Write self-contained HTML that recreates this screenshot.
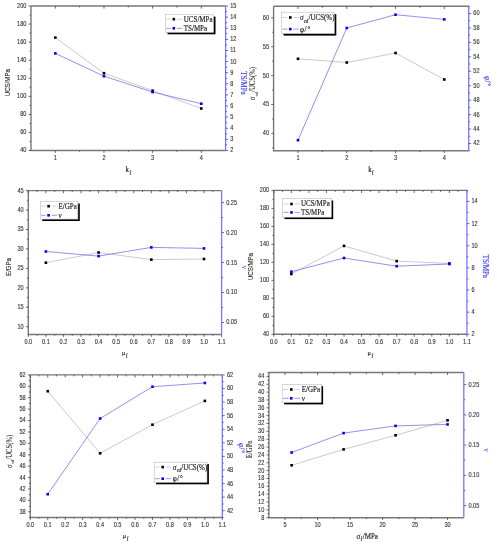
<!DOCTYPE html>
<html><head><meta charset="utf-8"><title>Charts</title>
<style>
html,body{margin:0;padding:0;background:#fff;}
body{width:497px;height:550px;overflow:hidden;}
svg{display:block;}
.t{font-family:'Liberation Sans', Arial, sans-serif;font-size:5.6px;fill:#333;stroke:#333;stroke-width:0.1px;}
.s{font-family:'Liberation Serif', 'Times New Roman', serif;font-size:7.0px;fill:#222;stroke:#222;stroke-width:0.15px;}
.sl{font-family:'Liberation Serif', 'Times New Roman', serif;font-size:6.7px;fill:#2a2a2a;stroke:#2a2a2a;stroke-width:0.08px;}
.st{font-family:'Liberation Sans', Arial, sans-serif;font-size:6.1px;fill:#333;stroke:#333;stroke-width:0.12px;}
</style></head><body>
<svg width="497" height="550" viewBox="0 0 497 550">
<rect width="497" height="550" fill="#fff"/>
<path d="M31,6V150.5H225.6M31,6H225.6" stroke="#787878" stroke-width="1.4" fill="none"/>
<path d="M55.33,150.5v2.4M55.33,6v2.6" stroke="#444" stroke-width="0.8"/>
<text transform="translate(55.33,159.90) scale(1,1.22)" class="t" text-anchor="middle">1</text>
<path d="M103.97,150.5v2.4M103.97,6v2.6" stroke="#444" stroke-width="0.8"/>
<text transform="translate(103.97,159.90) scale(1,1.22)" class="t" text-anchor="middle">2</text>
<path d="M152.62,150.5v2.4M152.62,6v2.6" stroke="#444" stroke-width="0.8"/>
<text transform="translate(152.62,159.90) scale(1,1.22)" class="t" text-anchor="middle">3</text>
<path d="M201.28,150.5v2.4M201.28,6v2.6" stroke="#444" stroke-width="0.8"/>
<text transform="translate(201.28,159.90) scale(1,1.22)" class="t" text-anchor="middle">4</text>
<path d="M79.65,150.5v1.3M79.65,6v1.5" stroke="#444" stroke-width="0.8"/>
<path d="M128.30,150.5v1.3M128.30,6v1.5" stroke="#444" stroke-width="0.8"/>
<path d="M176.95,150.5v1.3M176.95,6v1.5" stroke="#444" stroke-width="0.8"/>
<path d="M31,150.50h-2.4" stroke="#444" stroke-width="0.8"/>
<text transform="translate(26.40,152.45) scale(1,1.22)" class="t" text-anchor="end">40</text>
<path d="M31,132.44h-2.4" stroke="#444" stroke-width="0.8"/>
<text transform="translate(26.40,134.39) scale(1,1.22)" class="t" text-anchor="end">60</text>
<path d="M31,114.38h-2.4" stroke="#444" stroke-width="0.8"/>
<text transform="translate(26.40,116.33) scale(1,1.22)" class="t" text-anchor="end">80</text>
<path d="M31,96.31h-2.4" stroke="#444" stroke-width="0.8"/>
<text transform="translate(26.40,98.26) scale(1,1.22)" class="t" text-anchor="end">100</text>
<path d="M31,78.25h-2.4" stroke="#444" stroke-width="0.8"/>
<text transform="translate(26.40,80.20) scale(1,1.22)" class="t" text-anchor="end">120</text>
<path d="M31,60.19h-2.4" stroke="#444" stroke-width="0.8"/>
<text transform="translate(26.40,62.14) scale(1,1.22)" class="t" text-anchor="end">140</text>
<path d="M31,42.12h-2.4" stroke="#444" stroke-width="0.8"/>
<text transform="translate(26.40,44.08) scale(1,1.22)" class="t" text-anchor="end">160</text>
<path d="M31,24.06h-2.4" stroke="#444" stroke-width="0.8"/>
<text transform="translate(26.40,26.01) scale(1,1.22)" class="t" text-anchor="end">180</text>
<path d="M31,6.00h-2.4" stroke="#444" stroke-width="0.8"/>
<text transform="translate(26.40,7.95) scale(1,1.22)" class="t" text-anchor="end">200</text>
<path d="M31,141.47h-1.4" stroke="#444" stroke-width="0.8"/>
<path d="M31,123.41h-1.4" stroke="#444" stroke-width="0.8"/>
<path d="M31,105.34h-1.4" stroke="#444" stroke-width="0.8"/>
<path d="M31,87.28h-1.4" stroke="#444" stroke-width="0.8"/>
<path d="M31,69.22h-1.4" stroke="#444" stroke-width="0.8"/>
<path d="M31,51.16h-1.4" stroke="#444" stroke-width="0.8"/>
<path d="M31,33.09h-1.4" stroke="#444" stroke-width="0.8"/>
<path d="M31,15.03h-1.4" stroke="#444" stroke-width="0.8"/>
<path d="M225.6,6V150.5" stroke="#7878ff" stroke-width="1.3" fill="none"/>
<path d="M225.6,150.50h2.4" stroke="#3a3aff" stroke-width="0.8"/>
<text transform="translate(230.20,152.45) scale(1,1.22)" class="t">2</text>
<path d="M225.6,139.38h2.4" stroke="#3a3aff" stroke-width="0.8"/>
<text transform="translate(230.20,141.33) scale(1,1.22)" class="t">3</text>
<path d="M225.6,128.27h2.4" stroke="#3a3aff" stroke-width="0.8"/>
<text transform="translate(230.20,130.22) scale(1,1.22)" class="t">4</text>
<path d="M225.6,117.15h2.4" stroke="#3a3aff" stroke-width="0.8"/>
<text transform="translate(230.20,119.10) scale(1,1.22)" class="t">5</text>
<path d="M225.6,106.04h2.4" stroke="#3a3aff" stroke-width="0.8"/>
<text transform="translate(230.20,107.99) scale(1,1.22)" class="t">6</text>
<path d="M225.6,94.92h2.4" stroke="#3a3aff" stroke-width="0.8"/>
<text transform="translate(230.20,96.87) scale(1,1.22)" class="t">7</text>
<path d="M225.6,83.81h2.4" stroke="#3a3aff" stroke-width="0.8"/>
<text transform="translate(230.20,85.76) scale(1,1.22)" class="t">8</text>
<path d="M225.6,72.69h2.4" stroke="#3a3aff" stroke-width="0.8"/>
<text transform="translate(230.20,74.64) scale(1,1.22)" class="t">9</text>
<path d="M225.6,61.58h2.4" stroke="#3a3aff" stroke-width="0.8"/>
<text transform="translate(230.20,63.53) scale(1,1.22)" class="t">10</text>
<path d="M225.6,50.46h2.4" stroke="#3a3aff" stroke-width="0.8"/>
<text transform="translate(230.20,52.41) scale(1,1.22)" class="t">11</text>
<path d="M225.6,39.35h2.4" stroke="#3a3aff" stroke-width="0.8"/>
<text transform="translate(230.20,41.30) scale(1,1.22)" class="t">12</text>
<path d="M225.6,28.23h2.4" stroke="#3a3aff" stroke-width="0.8"/>
<text transform="translate(230.20,30.18) scale(1,1.22)" class="t">13</text>
<path d="M225.6,17.12h2.4" stroke="#3a3aff" stroke-width="0.8"/>
<text transform="translate(230.20,19.07) scale(1,1.22)" class="t">14</text>
<path d="M225.6,6.00h2.4" stroke="#3a3aff" stroke-width="0.8"/>
<text transform="translate(230.20,7.95) scale(1,1.22)" class="t">15</text>
<path d="M225.6,144.94h1.4" stroke="#3a3aff" stroke-width="0.8"/>
<path d="M225.6,133.83h1.4" stroke="#3a3aff" stroke-width="0.8"/>
<path d="M225.6,122.71h1.4" stroke="#3a3aff" stroke-width="0.8"/>
<path d="M225.6,111.60h1.4" stroke="#3a3aff" stroke-width="0.8"/>
<path d="M225.6,100.48h1.4" stroke="#3a3aff" stroke-width="0.8"/>
<path d="M225.6,89.37h1.4" stroke="#3a3aff" stroke-width="0.8"/>
<path d="M225.6,78.25h1.4" stroke="#3a3aff" stroke-width="0.8"/>
<path d="M225.6,67.13h1.4" stroke="#3a3aff" stroke-width="0.8"/>
<path d="M225.6,56.02h1.4" stroke="#3a3aff" stroke-width="0.8"/>
<path d="M225.6,44.90h1.4" stroke="#3a3aff" stroke-width="0.8"/>
<path d="M225.6,33.79h1.4" stroke="#3a3aff" stroke-width="0.8"/>
<path d="M225.6,22.67h1.4" stroke="#3a3aff" stroke-width="0.8"/>
<path d="M225.6,11.56h1.4" stroke="#3a3aff" stroke-width="0.8"/>
<polyline points="55.33,37.60 103.97,73.20 152.62,90.70 201.28,108.50" stroke="#bcbcbc" stroke-width="0.8" fill="none"/>
<polyline points="55.33,53.40 103.97,76.20 152.62,92.10 201.28,103.70" stroke="#7676ea" stroke-width="0.8" fill="none"/>
<rect x="54.03" y="36.30" width="2.6" height="2.6" fill="#000"/>
<rect x="102.67" y="71.90" width="2.6" height="2.6" fill="#000"/>
<rect x="151.32" y="89.40" width="2.6" height="2.6" fill="#000"/>
<rect x="199.97" y="107.20" width="2.6" height="2.6" fill="#000"/>
<rect x="54.03" y="52.10" width="2.6" height="2.6" fill="#0000ff"/>
<rect x="102.67" y="74.90" width="2.6" height="2.6" fill="#0000ff"/>
<rect x="151.32" y="90.80" width="2.6" height="2.6" fill="#0000ff"/>
<rect x="199.97" y="102.40" width="2.6" height="2.6" fill="#0000ff"/>
<rect x="167.50" y="16.60" width="48.00" height="17.70" fill="#000"/>
<rect x="165.60" y="14.70" width="48.00" height="17.70" fill="#fff" stroke="#bbb" stroke-width="0.6"/>
<path d="M166.40,19.20H170.80M176.80,19.20H182.30" stroke="#c8c8c8" stroke-width="0.8"/>
<rect x="172.50" y="17.90" width="2.6" height="2.6" fill="#000"/>
<text transform="translate(183.80,21.60) scale(1,1.15)" class="s">UCS/MPa</text>
<path d="M166.40,28.30H170.80M176.80,28.30H182.30" stroke="#8080f0" stroke-width="0.8"/>
<rect x="172.50" y="27.00" width="2.6" height="2.6" fill="#0000ff"/>
<text transform="translate(183.80,30.70) scale(1,1.15)" class="s">TS/MPa</text>
<text transform="translate(10.0,82.7) rotate(-90) scale(1,1.2)" class="st" text-anchor="middle">UCS/MPa</text>
<text transform="translate(240.5,83) rotate(90) scale(1,1.05)" class="s" text-anchor="middle" style="fill:#3a3aee;stroke:#3a3aee;stroke-width:0.12px">TS/MPa</text>
<text transform="translate(128.3,172.0) scale(1,1.15)" class="s" text-anchor="middle">k<tspan dy="2.4" dx="0.3" font-size="4.8">f</tspan></text>
<path d="M273.6,6.3V150.7H468.7M273.6,6.3H468.7" stroke="#787878" stroke-width="1.4" fill="none"/>
<path d="M297.99,150.7v2.4M297.99,6.3v2.6" stroke="#444" stroke-width="0.8"/>
<text transform="translate(297.99,160.10) scale(1,1.22)" class="t" text-anchor="middle">1</text>
<path d="M346.76,150.7v2.4M346.76,6.3v2.6" stroke="#444" stroke-width="0.8"/>
<text transform="translate(346.76,160.10) scale(1,1.22)" class="t" text-anchor="middle">2</text>
<path d="M395.54,150.7v2.4M395.54,6.3v2.6" stroke="#444" stroke-width="0.8"/>
<text transform="translate(395.54,160.10) scale(1,1.22)" class="t" text-anchor="middle">3</text>
<path d="M444.31,150.7v2.4M444.31,6.3v2.6" stroke="#444" stroke-width="0.8"/>
<text transform="translate(444.31,160.10) scale(1,1.22)" class="t" text-anchor="middle">4</text>
<path d="M322.38,150.7v1.3M322.38,6.3v1.5" stroke="#444" stroke-width="0.8"/>
<path d="M371.15,150.7v1.3M371.15,6.3v1.5" stroke="#444" stroke-width="0.8"/>
<path d="M419.93,150.7v1.3M419.93,6.3v1.5" stroke="#444" stroke-width="0.8"/>
<path d="M273.6,133.37h-2.4" stroke="#444" stroke-width="0.8"/>
<text transform="translate(269.00,135.32) scale(1,1.22)" class="t" text-anchor="end">40</text>
<path d="M273.6,104.49h-2.4" stroke="#444" stroke-width="0.8"/>
<text transform="translate(269.00,106.44) scale(1,1.22)" class="t" text-anchor="end">45</text>
<path d="M273.6,75.61h-2.4" stroke="#444" stroke-width="0.8"/>
<text transform="translate(269.00,77.56) scale(1,1.22)" class="t" text-anchor="end">50</text>
<path d="M273.6,46.73h-2.4" stroke="#444" stroke-width="0.8"/>
<text transform="translate(269.00,48.68) scale(1,1.22)" class="t" text-anchor="end">55</text>
<path d="M273.6,17.85h-2.4" stroke="#444" stroke-width="0.8"/>
<text transform="translate(269.00,19.80) scale(1,1.22)" class="t" text-anchor="end">60</text>
<path d="M273.6,147.81h-1.4" stroke="#444" stroke-width="0.8"/>
<path d="M273.6,118.93h-1.4" stroke="#444" stroke-width="0.8"/>
<path d="M273.6,90.05h-1.4" stroke="#444" stroke-width="0.8"/>
<path d="M273.6,61.17h-1.4" stroke="#444" stroke-width="0.8"/>
<path d="M273.6,32.29h-1.4" stroke="#444" stroke-width="0.8"/>
<path d="M468.7,6.3V150.7" stroke="#7878ff" stroke-width="1.3" fill="none"/>
<path d="M468.7,143.48h2.4" stroke="#3a3aff" stroke-width="0.8"/>
<text transform="translate(473.30,145.43) scale(1,1.22)" class="t">42</text>
<path d="M468.7,129.04h2.4" stroke="#3a3aff" stroke-width="0.8"/>
<text transform="translate(473.30,130.99) scale(1,1.22)" class="t">44</text>
<path d="M468.7,114.60h2.4" stroke="#3a3aff" stroke-width="0.8"/>
<text transform="translate(473.30,116.55) scale(1,1.22)" class="t">46</text>
<path d="M468.7,100.16h2.4" stroke="#3a3aff" stroke-width="0.8"/>
<text transform="translate(473.30,102.11) scale(1,1.22)" class="t">48</text>
<path d="M468.7,85.72h2.4" stroke="#3a3aff" stroke-width="0.8"/>
<text transform="translate(473.30,87.67) scale(1,1.22)" class="t">50</text>
<path d="M468.7,71.28h2.4" stroke="#3a3aff" stroke-width="0.8"/>
<text transform="translate(473.30,73.23) scale(1,1.22)" class="t">52</text>
<path d="M468.7,56.84h2.4" stroke="#3a3aff" stroke-width="0.8"/>
<text transform="translate(473.30,58.79) scale(1,1.22)" class="t">54</text>
<path d="M468.7,42.40h2.4" stroke="#3a3aff" stroke-width="0.8"/>
<text transform="translate(473.30,44.35) scale(1,1.22)" class="t">56</text>
<path d="M468.7,27.96h2.4" stroke="#3a3aff" stroke-width="0.8"/>
<text transform="translate(473.30,29.91) scale(1,1.22)" class="t">58</text>
<path d="M468.7,13.52h2.4" stroke="#3a3aff" stroke-width="0.8"/>
<text transform="translate(473.30,15.47) scale(1,1.22)" class="t">60</text>
<path d="M468.7,150.70h1.4" stroke="#3a3aff" stroke-width="0.8"/>
<path d="M468.7,136.26h1.4" stroke="#3a3aff" stroke-width="0.8"/>
<path d="M468.7,121.82h1.4" stroke="#3a3aff" stroke-width="0.8"/>
<path d="M468.7,107.38h1.4" stroke="#3a3aff" stroke-width="0.8"/>
<path d="M468.7,92.94h1.4" stroke="#3a3aff" stroke-width="0.8"/>
<path d="M468.7,78.50h1.4" stroke="#3a3aff" stroke-width="0.8"/>
<path d="M468.7,64.06h1.4" stroke="#3a3aff" stroke-width="0.8"/>
<path d="M468.7,49.62h1.4" stroke="#3a3aff" stroke-width="0.8"/>
<path d="M468.7,35.18h1.4" stroke="#3a3aff" stroke-width="0.8"/>
<path d="M468.7,20.74h1.4" stroke="#3a3aff" stroke-width="0.8"/>
<path d="M468.7,6.30h1.4" stroke="#3a3aff" stroke-width="0.8"/>
<polyline points="297.99,58.80 346.76,62.50 395.54,53.00 444.31,79.50" stroke="#bcbcbc" stroke-width="0.8" fill="none"/>
<polyline points="297.99,140.20 346.76,28.00 395.54,14.70 444.31,19.40" stroke="#7676ea" stroke-width="0.8" fill="none"/>
<rect x="296.69" y="57.50" width="2.6" height="2.6" fill="#000"/>
<rect x="345.46" y="61.20" width="2.6" height="2.6" fill="#000"/>
<rect x="394.24" y="51.70" width="2.6" height="2.6" fill="#000"/>
<rect x="443.01" y="78.20" width="2.6" height="2.6" fill="#000"/>
<rect x="296.69" y="138.90" width="2.6" height="2.6" fill="#0000ff"/>
<rect x="345.46" y="26.70" width="2.6" height="2.6" fill="#0000ff"/>
<rect x="394.24" y="13.40" width="2.6" height="2.6" fill="#0000ff"/>
<rect x="443.01" y="18.10" width="2.6" height="2.6" fill="#0000ff"/>
<rect x="283.50" y="14.10" width="52.80" height="21.50" fill="#000"/>
<rect x="281.60" y="12.20" width="52.80" height="21.50" fill="#fff" stroke="#bbb" stroke-width="0.6"/>
<path d="M282.40,17.50H287.30M293.30,17.50H298.80" stroke="#c8c8c8" stroke-width="0.8"/>
<rect x="289.00" y="16.20" width="2.6" height="2.6" fill="#000"/>
<text transform="translate(300.00,19.90) scale(1,1.15)" class="s">σ<tspan dy="2.3" dx="0.2" font-size="4.5">cd</tspan><tspan dy="-2.3" dx="0.3">/UCS(%)</tspan></text>
<path d="M282.40,29.10H287.30M293.30,29.10H298.80" stroke="#8080f0" stroke-width="0.8"/>
<rect x="289.00" y="27.80" width="2.6" height="2.6" fill="#0000ff"/>
<text transform="translate(300.00,31.50) scale(1,1.15)" class="s">φ<tspan dx="0.5">/</tspan><tspan dx="0.9">°</tspan></text>
<text transform="translate(255.4,83.6) rotate(-90) scale(1,1.08)" class="sl" text-anchor="middle">σ<tspan dy="2.3" dx="0.2" font-size="4.5">cd</tspan><tspan dy="-2.3" dx="0.3">/UCS(%)</tspan></text>
<text transform="translate(484.5,81) rotate(90) scale(1,1.05)" class="s" text-anchor="middle" style="fill:#3a3aee;stroke:#3a3aee;stroke-width:0.12px">φ<tspan dx="0.5">/</tspan><tspan dx="0.9">°</tspan></text>
<text transform="translate(371.0,172.0) scale(1,1.15)" class="s" text-anchor="middle">k<tspan dy="2.4" dx="0.3" font-size="4.8">f</tspan></text>
<path d="M28.3,190.6V334.5H221.6M28.3,190.6H221.6" stroke="#787878" stroke-width="1.4" fill="none"/>
<path d="M28.30,334.5v2.4M28.30,190.6v2.6" stroke="#444" stroke-width="0.8"/>
<text transform="translate(28.30,343.90) scale(1,1.22)" class="t" text-anchor="middle">0.0</text>
<path d="M45.87,334.5v2.4M45.87,190.6v2.6" stroke="#444" stroke-width="0.8"/>
<text transform="translate(45.87,343.90) scale(1,1.22)" class="t" text-anchor="middle">0.1</text>
<path d="M63.45,334.5v2.4M63.45,190.6v2.6" stroke="#444" stroke-width="0.8"/>
<text transform="translate(63.45,343.90) scale(1,1.22)" class="t" text-anchor="middle">0.2</text>
<path d="M81.02,334.5v2.4M81.02,190.6v2.6" stroke="#444" stroke-width="0.8"/>
<text transform="translate(81.02,343.90) scale(1,1.22)" class="t" text-anchor="middle">0.3</text>
<path d="M98.59,334.5v2.4M98.59,190.6v2.6" stroke="#444" stroke-width="0.8"/>
<text transform="translate(98.59,343.90) scale(1,1.22)" class="t" text-anchor="middle">0.4</text>
<path d="M116.16,334.5v2.4M116.16,190.6v2.6" stroke="#444" stroke-width="0.8"/>
<text transform="translate(116.16,343.90) scale(1,1.22)" class="t" text-anchor="middle">0.5</text>
<path d="M133.74,334.5v2.4M133.74,190.6v2.6" stroke="#444" stroke-width="0.8"/>
<text transform="translate(133.74,343.90) scale(1,1.22)" class="t" text-anchor="middle">0.6</text>
<path d="M151.31,334.5v2.4M151.31,190.6v2.6" stroke="#444" stroke-width="0.8"/>
<text transform="translate(151.31,343.90) scale(1,1.22)" class="t" text-anchor="middle">0.7</text>
<path d="M168.88,334.5v2.4M168.88,190.6v2.6" stroke="#444" stroke-width="0.8"/>
<text transform="translate(168.88,343.90) scale(1,1.22)" class="t" text-anchor="middle">0.8</text>
<path d="M186.45,334.5v2.4M186.45,190.6v2.6" stroke="#444" stroke-width="0.8"/>
<text transform="translate(186.45,343.90) scale(1,1.22)" class="t" text-anchor="middle">0.9</text>
<path d="M204.03,334.5v2.4M204.03,190.6v2.6" stroke="#444" stroke-width="0.8"/>
<text transform="translate(204.03,343.90) scale(1,1.22)" class="t" text-anchor="middle">1.0</text>
<path d="M221.60,334.5v2.4M221.60,190.6v2.6" stroke="#444" stroke-width="0.8"/>
<text transform="translate(221.60,343.90) scale(1,1.22)" class="t" text-anchor="middle">1.1</text>
<path d="M37.09,334.5v1.3M37.09,190.6v1.5" stroke="#444" stroke-width="0.8"/>
<path d="M54.66,334.5v1.3M54.66,190.6v1.5" stroke="#444" stroke-width="0.8"/>
<path d="M72.23,334.5v1.3M72.23,190.6v1.5" stroke="#444" stroke-width="0.8"/>
<path d="M89.80,334.5v1.3M89.80,190.6v1.5" stroke="#444" stroke-width="0.8"/>
<path d="M107.38,334.5v1.3M107.38,190.6v1.5" stroke="#444" stroke-width="0.8"/>
<path d="M124.95,334.5v1.3M124.95,190.6v1.5" stroke="#444" stroke-width="0.8"/>
<path d="M142.52,334.5v1.3M142.52,190.6v1.5" stroke="#444" stroke-width="0.8"/>
<path d="M160.10,334.5v1.3M160.10,190.6v1.5" stroke="#444" stroke-width="0.8"/>
<path d="M177.67,334.5v1.3M177.67,190.6v1.5" stroke="#444" stroke-width="0.8"/>
<path d="M195.24,334.5v1.3M195.24,190.6v1.5" stroke="#444" stroke-width="0.8"/>
<path d="M212.81,334.5v1.3M212.81,190.6v1.5" stroke="#444" stroke-width="0.8"/>
<path d="M28.3,326.72h-2.4" stroke="#444" stroke-width="0.8"/>
<text transform="translate(23.70,328.67) scale(1,1.22)" class="t" text-anchor="end">10</text>
<path d="M28.3,307.28h-2.4" stroke="#444" stroke-width="0.8"/>
<text transform="translate(23.70,309.23) scale(1,1.22)" class="t" text-anchor="end">15</text>
<path d="M28.3,287.83h-2.4" stroke="#444" stroke-width="0.8"/>
<text transform="translate(23.70,289.78) scale(1,1.22)" class="t" text-anchor="end">20</text>
<path d="M28.3,268.38h-2.4" stroke="#444" stroke-width="0.8"/>
<text transform="translate(23.70,270.33) scale(1,1.22)" class="t" text-anchor="end">25</text>
<path d="M28.3,248.94h-2.4" stroke="#444" stroke-width="0.8"/>
<text transform="translate(23.70,250.89) scale(1,1.22)" class="t" text-anchor="end">30</text>
<path d="M28.3,229.49h-2.4" stroke="#444" stroke-width="0.8"/>
<text transform="translate(23.70,231.44) scale(1,1.22)" class="t" text-anchor="end">35</text>
<path d="M28.3,210.05h-2.4" stroke="#444" stroke-width="0.8"/>
<text transform="translate(23.70,212.00) scale(1,1.22)" class="t" text-anchor="end">40</text>
<path d="M28.3,190.60h-2.4" stroke="#444" stroke-width="0.8"/>
<text transform="translate(23.70,192.55) scale(1,1.22)" class="t" text-anchor="end">45</text>
<path d="M28.3,317.00h-1.4" stroke="#444" stroke-width="0.8"/>
<path d="M28.3,297.55h-1.4" stroke="#444" stroke-width="0.8"/>
<path d="M28.3,278.11h-1.4" stroke="#444" stroke-width="0.8"/>
<path d="M28.3,258.66h-1.4" stroke="#444" stroke-width="0.8"/>
<path d="M28.3,239.21h-1.4" stroke="#444" stroke-width="0.8"/>
<path d="M28.3,219.77h-1.4" stroke="#444" stroke-width="0.8"/>
<path d="M28.3,200.32h-1.4" stroke="#444" stroke-width="0.8"/>
<path d="M221.6,190.6V334.5" stroke="#7878ff" stroke-width="1.3" fill="none"/>
<path d="M221.6,322.51h2.4" stroke="#3a3aff" stroke-width="0.8"/>
<text transform="translate(226.20,324.46) scale(1,1.22)" class="t">0.05</text>
<path d="M221.6,292.53h2.4" stroke="#3a3aff" stroke-width="0.8"/>
<text transform="translate(226.20,294.48) scale(1,1.22)" class="t">0.10</text>
<path d="M221.6,262.55h2.4" stroke="#3a3aff" stroke-width="0.8"/>
<text transform="translate(226.20,264.50) scale(1,1.22)" class="t">0.15</text>
<path d="M221.6,232.57h2.4" stroke="#3a3aff" stroke-width="0.8"/>
<text transform="translate(226.20,234.52) scale(1,1.22)" class="t">0.20</text>
<path d="M221.6,202.59h2.4" stroke="#3a3aff" stroke-width="0.8"/>
<text transform="translate(226.20,204.54) scale(1,1.22)" class="t">0.25</text>
<path d="M221.6,307.52h1.4" stroke="#3a3aff" stroke-width="0.8"/>
<path d="M221.6,277.54h1.4" stroke="#3a3aff" stroke-width="0.8"/>
<path d="M221.6,247.56h1.4" stroke="#3a3aff" stroke-width="0.8"/>
<path d="M221.6,217.58h1.4" stroke="#3a3aff" stroke-width="0.8"/>
<polyline points="45.87,262.70 98.59,252.50 151.31,259.60 204.03,259.00" stroke="#bcbcbc" stroke-width="0.8" fill="none"/>
<polyline points="45.87,251.50 98.59,256.10 151.31,247.40 204.03,248.40" stroke="#7676ea" stroke-width="0.8" fill="none"/>
<rect x="44.57" y="261.40" width="2.6" height="2.6" fill="#000"/>
<rect x="97.29" y="251.20" width="2.6" height="2.6" fill="#000"/>
<rect x="150.01" y="258.30" width="2.6" height="2.6" fill="#000"/>
<rect x="202.73" y="257.70" width="2.6" height="2.6" fill="#000"/>
<rect x="44.57" y="250.20" width="2.6" height="2.6" fill="#0000ff"/>
<rect x="97.29" y="254.80" width="2.6" height="2.6" fill="#0000ff"/>
<rect x="150.01" y="246.10" width="2.6" height="2.6" fill="#0000ff"/>
<rect x="202.73" y="247.10" width="2.6" height="2.6" fill="#0000ff"/>
<rect x="42.20" y="203.50" width="37.60" height="17.50" fill="#000"/>
<rect x="40.30" y="201.60" width="37.60" height="17.50" fill="#fff" stroke="#bbb" stroke-width="0.6"/>
<path d="M41.10,206.20H45.60M51.60,206.20H57.10" stroke="#c8c8c8" stroke-width="0.8"/>
<rect x="47.30" y="204.90" width="2.6" height="2.6" fill="#000"/>
<text transform="translate(58.60,208.60) scale(1,1.15)" class="s">E/GPa</text>
<path d="M41.10,215.30H45.60M51.60,215.30H57.10" stroke="#8080f0" stroke-width="0.8"/>
<rect x="47.30" y="214.00" width="2.6" height="2.6" fill="#0000ff"/>
<text transform="translate(58.60,217.70) scale(1,1.15)" class="s">ν</text>
<text transform="translate(10.7,267.1) rotate(-90) scale(1,1.2)" class="st" text-anchor="middle">E/GPa</text>
<text transform="translate(242,267.3) rotate(90) scale(1,1.05)" class="s" text-anchor="middle" style="fill:#3a3aee;stroke:#3a3aee;stroke-width:0.12px">ν</text>
<text transform="translate(124.8,355.1) scale(1,1.15)" class="s" text-anchor="middle"><tspan font-size="6.2">μ</tspan><tspan dy="2.3" dx="0.7" font-size="4.8">f</tspan></text>
<path d="M273.8,190.4V334.3H466.9M273.8,190.4H466.9" stroke="#787878" stroke-width="1.4" fill="none"/>
<path d="M273.80,334.3v2.4M273.80,190.4v2.6" stroke="#444" stroke-width="0.8"/>
<text transform="translate(273.80,343.70) scale(1,1.22)" class="t" text-anchor="middle">0.0</text>
<path d="M291.35,334.3v2.4M291.35,190.4v2.6" stroke="#444" stroke-width="0.8"/>
<text transform="translate(291.35,343.70) scale(1,1.22)" class="t" text-anchor="middle">0.1</text>
<path d="M308.91,334.3v2.4M308.91,190.4v2.6" stroke="#444" stroke-width="0.8"/>
<text transform="translate(308.91,343.70) scale(1,1.22)" class="t" text-anchor="middle">0.2</text>
<path d="M326.46,334.3v2.4M326.46,190.4v2.6" stroke="#444" stroke-width="0.8"/>
<text transform="translate(326.46,343.70) scale(1,1.22)" class="t" text-anchor="middle">0.3</text>
<path d="M344.02,334.3v2.4M344.02,190.4v2.6" stroke="#444" stroke-width="0.8"/>
<text transform="translate(344.02,343.70) scale(1,1.22)" class="t" text-anchor="middle">0.4</text>
<path d="M361.57,334.3v2.4M361.57,190.4v2.6" stroke="#444" stroke-width="0.8"/>
<text transform="translate(361.57,343.70) scale(1,1.22)" class="t" text-anchor="middle">0.5</text>
<path d="M379.13,334.3v2.4M379.13,190.4v2.6" stroke="#444" stroke-width="0.8"/>
<text transform="translate(379.13,343.70) scale(1,1.22)" class="t" text-anchor="middle">0.6</text>
<path d="M396.68,334.3v2.4M396.68,190.4v2.6" stroke="#444" stroke-width="0.8"/>
<text transform="translate(396.68,343.70) scale(1,1.22)" class="t" text-anchor="middle">0.7</text>
<path d="M414.24,334.3v2.4M414.24,190.4v2.6" stroke="#444" stroke-width="0.8"/>
<text transform="translate(414.24,343.70) scale(1,1.22)" class="t" text-anchor="middle">0.8</text>
<path d="M431.79,334.3v2.4M431.79,190.4v2.6" stroke="#444" stroke-width="0.8"/>
<text transform="translate(431.79,343.70) scale(1,1.22)" class="t" text-anchor="middle">0.9</text>
<path d="M449.35,334.3v2.4M449.35,190.4v2.6" stroke="#444" stroke-width="0.8"/>
<text transform="translate(449.35,343.70) scale(1,1.22)" class="t" text-anchor="middle">1.0</text>
<path d="M466.90,334.3v2.4M466.90,190.4v2.6" stroke="#444" stroke-width="0.8"/>
<text transform="translate(466.90,343.70) scale(1,1.22)" class="t" text-anchor="middle">1.1</text>
<path d="M282.58,334.3v1.3M282.58,190.4v1.5" stroke="#444" stroke-width="0.8"/>
<path d="M300.13,334.3v1.3M300.13,190.4v1.5" stroke="#444" stroke-width="0.8"/>
<path d="M317.69,334.3v1.3M317.69,190.4v1.5" stroke="#444" stroke-width="0.8"/>
<path d="M335.24,334.3v1.3M335.24,190.4v1.5" stroke="#444" stroke-width="0.8"/>
<path d="M352.80,334.3v1.3M352.80,190.4v1.5" stroke="#444" stroke-width="0.8"/>
<path d="M370.35,334.3v1.3M370.35,190.4v1.5" stroke="#444" stroke-width="0.8"/>
<path d="M387.90,334.3v1.3M387.90,190.4v1.5" stroke="#444" stroke-width="0.8"/>
<path d="M405.46,334.3v1.3M405.46,190.4v1.5" stroke="#444" stroke-width="0.8"/>
<path d="M423.01,334.3v1.3M423.01,190.4v1.5" stroke="#444" stroke-width="0.8"/>
<path d="M440.57,334.3v1.3M440.57,190.4v1.5" stroke="#444" stroke-width="0.8"/>
<path d="M458.12,334.3v1.3M458.12,190.4v1.5" stroke="#444" stroke-width="0.8"/>
<path d="M273.8,334.30h-2.4" stroke="#444" stroke-width="0.8"/>
<text transform="translate(269.20,336.25) scale(1,1.22)" class="t" text-anchor="end">40</text>
<path d="M273.8,316.31h-2.4" stroke="#444" stroke-width="0.8"/>
<text transform="translate(269.20,318.26) scale(1,1.22)" class="t" text-anchor="end">60</text>
<path d="M273.8,298.32h-2.4" stroke="#444" stroke-width="0.8"/>
<text transform="translate(269.20,300.27) scale(1,1.22)" class="t" text-anchor="end">80</text>
<path d="M273.8,280.34h-2.4" stroke="#444" stroke-width="0.8"/>
<text transform="translate(269.20,282.29) scale(1,1.22)" class="t" text-anchor="end">100</text>
<path d="M273.8,262.35h-2.4" stroke="#444" stroke-width="0.8"/>
<text transform="translate(269.20,264.30) scale(1,1.22)" class="t" text-anchor="end">120</text>
<path d="M273.8,244.36h-2.4" stroke="#444" stroke-width="0.8"/>
<text transform="translate(269.20,246.31) scale(1,1.22)" class="t" text-anchor="end">140</text>
<path d="M273.8,226.38h-2.4" stroke="#444" stroke-width="0.8"/>
<text transform="translate(269.20,228.32) scale(1,1.22)" class="t" text-anchor="end">160</text>
<path d="M273.8,208.39h-2.4" stroke="#444" stroke-width="0.8"/>
<text transform="translate(269.20,210.34) scale(1,1.22)" class="t" text-anchor="end">180</text>
<path d="M273.8,190.40h-2.4" stroke="#444" stroke-width="0.8"/>
<text transform="translate(269.20,192.35) scale(1,1.22)" class="t" text-anchor="end">200</text>
<path d="M273.8,325.31h-1.4" stroke="#444" stroke-width="0.8"/>
<path d="M273.8,307.32h-1.4" stroke="#444" stroke-width="0.8"/>
<path d="M273.8,289.33h-1.4" stroke="#444" stroke-width="0.8"/>
<path d="M273.8,271.34h-1.4" stroke="#444" stroke-width="0.8"/>
<path d="M273.8,253.36h-1.4" stroke="#444" stroke-width="0.8"/>
<path d="M273.8,235.37h-1.4" stroke="#444" stroke-width="0.8"/>
<path d="M273.8,217.38h-1.4" stroke="#444" stroke-width="0.8"/>
<path d="M273.8,199.39h-1.4" stroke="#444" stroke-width="0.8"/>
<path d="M466.9,190.4V334.3" stroke="#7878ff" stroke-width="1.3" fill="none"/>
<path d="M466.9,334.30h2.4" stroke="#3a3aff" stroke-width="0.8"/>
<text transform="translate(471.50,336.25) scale(1,1.22)" class="t">2</text>
<path d="M466.9,312.16h2.4" stroke="#3a3aff" stroke-width="0.8"/>
<text transform="translate(471.50,314.11) scale(1,1.22)" class="t">4</text>
<path d="M466.9,290.02h2.4" stroke="#3a3aff" stroke-width="0.8"/>
<text transform="translate(471.50,291.97) scale(1,1.22)" class="t">6</text>
<path d="M466.9,267.88h2.4" stroke="#3a3aff" stroke-width="0.8"/>
<text transform="translate(471.50,269.83) scale(1,1.22)" class="t">8</text>
<path d="M466.9,245.75h2.4" stroke="#3a3aff" stroke-width="0.8"/>
<text transform="translate(471.50,247.70) scale(1,1.22)" class="t">10</text>
<path d="M466.9,223.61h2.4" stroke="#3a3aff" stroke-width="0.8"/>
<text transform="translate(471.50,225.56) scale(1,1.22)" class="t">12</text>
<path d="M466.9,201.47h2.4" stroke="#3a3aff" stroke-width="0.8"/>
<text transform="translate(471.50,203.42) scale(1,1.22)" class="t">14</text>
<path d="M466.9,323.23h1.4" stroke="#3a3aff" stroke-width="0.8"/>
<path d="M466.9,301.09h1.4" stroke="#3a3aff" stroke-width="0.8"/>
<path d="M466.9,278.95h1.4" stroke="#3a3aff" stroke-width="0.8"/>
<path d="M466.9,256.82h1.4" stroke="#3a3aff" stroke-width="0.8"/>
<path d="M466.9,234.68h1.4" stroke="#3a3aff" stroke-width="0.8"/>
<path d="M466.9,212.54h1.4" stroke="#3a3aff" stroke-width="0.8"/>
<path d="M466.9,190.40h1.4" stroke="#3a3aff" stroke-width="0.8"/>
<polyline points="291.35,274.00 344.02,245.90 396.68,261.10 449.35,263.50" stroke="#bcbcbc" stroke-width="0.8" fill="none"/>
<polyline points="291.35,271.70 344.02,258.00 396.68,266.20 449.35,264.00" stroke="#7676ea" stroke-width="0.8" fill="none"/>
<rect x="290.05" y="272.70" width="2.6" height="2.6" fill="#000"/>
<rect x="342.72" y="244.60" width="2.6" height="2.6" fill="#000"/>
<rect x="395.38" y="259.80" width="2.6" height="2.6" fill="#000"/>
<rect x="448.05" y="262.20" width="2.6" height="2.6" fill="#000"/>
<rect x="290.05" y="270.40" width="2.6" height="2.6" fill="#0000ff"/>
<rect x="342.72" y="256.70" width="2.6" height="2.6" fill="#0000ff"/>
<rect x="395.38" y="264.90" width="2.6" height="2.6" fill="#0000ff"/>
<rect x="448.05" y="262.70" width="2.6" height="2.6" fill="#0000ff"/>
<rect x="284.50" y="200.50" width="48.70" height="18.60" fill="#000"/>
<rect x="282.60" y="198.60" width="48.70" height="18.60" fill="#fff" stroke="#bbb" stroke-width="0.6"/>
<path d="M283.40,204.00H288.50M294.50,204.00H300.00" stroke="#c8c8c8" stroke-width="0.8"/>
<rect x="290.20" y="202.70" width="2.6" height="2.6" fill="#000"/>
<text transform="translate(301.00,206.40) scale(1,1.15)" class="s">UCS/MPa</text>
<path d="M283.40,212.40H288.50M294.50,212.40H300.00" stroke="#8080f0" stroke-width="0.8"/>
<rect x="290.20" y="211.10" width="2.6" height="2.6" fill="#0000ff"/>
<text transform="translate(301.00,214.80) scale(1,1.15)" class="s">TS/MPa</text>
<text transform="translate(253.3,266.6) rotate(-90) scale(1,1.2)" class="st" text-anchor="middle">UCS/MPa</text>
<text transform="translate(482.6,266.3) rotate(90) scale(1,1.05)" class="s" text-anchor="middle" style="fill:#3a3aee;stroke:#3a3aee;stroke-width:0.12px">TS/MPa</text>
<text transform="translate(370.2,355.1) scale(1,1.15)" class="s" text-anchor="middle"><tspan font-size="6.2">μ</tspan><tspan dy="2.3" dx="0.7" font-size="4.8">f</tspan></text>
<path d="M30.3,374.9V517.5H222.3M30.3,374.9H222.3" stroke="#787878" stroke-width="1.4" fill="none"/>
<path d="M30.30,517.5v2.4M30.30,374.9v2.6" stroke="#444" stroke-width="0.8"/>
<text transform="translate(30.30,526.90) scale(1,1.22)" class="t" text-anchor="middle">0.0</text>
<path d="M47.75,517.5v2.4M47.75,374.9v2.6" stroke="#444" stroke-width="0.8"/>
<text transform="translate(47.75,526.90) scale(1,1.22)" class="t" text-anchor="middle">0.1</text>
<path d="M65.21,517.5v2.4M65.21,374.9v2.6" stroke="#444" stroke-width="0.8"/>
<text transform="translate(65.21,526.90) scale(1,1.22)" class="t" text-anchor="middle">0.2</text>
<path d="M82.66,517.5v2.4M82.66,374.9v2.6" stroke="#444" stroke-width="0.8"/>
<text transform="translate(82.66,526.90) scale(1,1.22)" class="t" text-anchor="middle">0.3</text>
<path d="M100.12,517.5v2.4M100.12,374.9v2.6" stroke="#444" stroke-width="0.8"/>
<text transform="translate(100.12,526.90) scale(1,1.22)" class="t" text-anchor="middle">0.4</text>
<path d="M117.57,517.5v2.4M117.57,374.9v2.6" stroke="#444" stroke-width="0.8"/>
<text transform="translate(117.57,526.90) scale(1,1.22)" class="t" text-anchor="middle">0.5</text>
<path d="M135.03,517.5v2.4M135.03,374.9v2.6" stroke="#444" stroke-width="0.8"/>
<text transform="translate(135.03,526.90) scale(1,1.22)" class="t" text-anchor="middle">0.6</text>
<path d="M152.48,517.5v2.4M152.48,374.9v2.6" stroke="#444" stroke-width="0.8"/>
<text transform="translate(152.48,526.90) scale(1,1.22)" class="t" text-anchor="middle">0.7</text>
<path d="M169.94,517.5v2.4M169.94,374.9v2.6" stroke="#444" stroke-width="0.8"/>
<text transform="translate(169.94,526.90) scale(1,1.22)" class="t" text-anchor="middle">0.8</text>
<path d="M187.39,517.5v2.4M187.39,374.9v2.6" stroke="#444" stroke-width="0.8"/>
<text transform="translate(187.39,526.90) scale(1,1.22)" class="t" text-anchor="middle">0.9</text>
<path d="M204.85,517.5v2.4M204.85,374.9v2.6" stroke="#444" stroke-width="0.8"/>
<text transform="translate(204.85,526.90) scale(1,1.22)" class="t" text-anchor="middle">1.0</text>
<path d="M222.30,517.5v2.4M222.30,374.9v2.6" stroke="#444" stroke-width="0.8"/>
<text transform="translate(222.30,526.90) scale(1,1.22)" class="t" text-anchor="middle">1.1</text>
<path d="M39.03,517.5v1.3M39.03,374.9v1.5" stroke="#444" stroke-width="0.8"/>
<path d="M56.48,517.5v1.3M56.48,374.9v1.5" stroke="#444" stroke-width="0.8"/>
<path d="M73.94,517.5v1.3M73.94,374.9v1.5" stroke="#444" stroke-width="0.8"/>
<path d="M91.39,517.5v1.3M91.39,374.9v1.5" stroke="#444" stroke-width="0.8"/>
<path d="M108.85,517.5v1.3M108.85,374.9v1.5" stroke="#444" stroke-width="0.8"/>
<path d="M126.30,517.5v1.3M126.30,374.9v1.5" stroke="#444" stroke-width="0.8"/>
<path d="M143.75,517.5v1.3M143.75,374.9v1.5" stroke="#444" stroke-width="0.8"/>
<path d="M161.21,517.5v1.3M161.21,374.9v1.5" stroke="#444" stroke-width="0.8"/>
<path d="M178.66,517.5v1.3M178.66,374.9v1.5" stroke="#444" stroke-width="0.8"/>
<path d="M196.12,517.5v1.3M196.12,374.9v1.5" stroke="#444" stroke-width="0.8"/>
<path d="M213.57,517.5v1.3M213.57,374.9v1.5" stroke="#444" stroke-width="0.8"/>
<path d="M30.3,511.80h-2.4" stroke="#444" stroke-width="0.8"/>
<text transform="translate(25.70,513.75) scale(1,1.22)" class="t" text-anchor="end">38</text>
<path d="M30.3,500.39h-2.4" stroke="#444" stroke-width="0.8"/>
<text transform="translate(25.70,502.34) scale(1,1.22)" class="t" text-anchor="end">40</text>
<path d="M30.3,488.98h-2.4" stroke="#444" stroke-width="0.8"/>
<text transform="translate(25.70,490.93) scale(1,1.22)" class="t" text-anchor="end">42</text>
<path d="M30.3,477.57h-2.4" stroke="#444" stroke-width="0.8"/>
<text transform="translate(25.70,479.52) scale(1,1.22)" class="t" text-anchor="end">44</text>
<path d="M30.3,466.16h-2.4" stroke="#444" stroke-width="0.8"/>
<text transform="translate(25.70,468.11) scale(1,1.22)" class="t" text-anchor="end">46</text>
<path d="M30.3,454.76h-2.4" stroke="#444" stroke-width="0.8"/>
<text transform="translate(25.70,456.71) scale(1,1.22)" class="t" text-anchor="end">48</text>
<path d="M30.3,443.35h-2.4" stroke="#444" stroke-width="0.8"/>
<text transform="translate(25.70,445.30) scale(1,1.22)" class="t" text-anchor="end">50</text>
<path d="M30.3,431.94h-2.4" stroke="#444" stroke-width="0.8"/>
<text transform="translate(25.70,433.89) scale(1,1.22)" class="t" text-anchor="end">52</text>
<path d="M30.3,420.53h-2.4" stroke="#444" stroke-width="0.8"/>
<text transform="translate(25.70,422.48) scale(1,1.22)" class="t" text-anchor="end">54</text>
<path d="M30.3,409.12h-2.4" stroke="#444" stroke-width="0.8"/>
<text transform="translate(25.70,411.07) scale(1,1.22)" class="t" text-anchor="end">56</text>
<path d="M30.3,397.72h-2.4" stroke="#444" stroke-width="0.8"/>
<text transform="translate(25.70,399.67) scale(1,1.22)" class="t" text-anchor="end">58</text>
<path d="M30.3,386.31h-2.4" stroke="#444" stroke-width="0.8"/>
<text transform="translate(25.70,388.26) scale(1,1.22)" class="t" text-anchor="end">60</text>
<path d="M30.3,374.90h-2.4" stroke="#444" stroke-width="0.8"/>
<text transform="translate(25.70,376.85) scale(1,1.22)" class="t" text-anchor="end">62</text>
<path d="M30.3,517.50h-1.4" stroke="#444" stroke-width="0.8"/>
<path d="M30.3,506.09h-1.4" stroke="#444" stroke-width="0.8"/>
<path d="M30.3,494.68h-1.4" stroke="#444" stroke-width="0.8"/>
<path d="M30.3,483.28h-1.4" stroke="#444" stroke-width="0.8"/>
<path d="M30.3,471.87h-1.4" stroke="#444" stroke-width="0.8"/>
<path d="M30.3,460.46h-1.4" stroke="#444" stroke-width="0.8"/>
<path d="M30.3,449.05h-1.4" stroke="#444" stroke-width="0.8"/>
<path d="M30.3,437.64h-1.4" stroke="#444" stroke-width="0.8"/>
<path d="M30.3,426.24h-1.4" stroke="#444" stroke-width="0.8"/>
<path d="M30.3,414.83h-1.4" stroke="#444" stroke-width="0.8"/>
<path d="M30.3,403.42h-1.4" stroke="#444" stroke-width="0.8"/>
<path d="M30.3,392.01h-1.4" stroke="#444" stroke-width="0.8"/>
<path d="M30.3,380.60h-1.4" stroke="#444" stroke-width="0.8"/>
<path d="M222.3,374.9V517.5" stroke="#7878ff" stroke-width="1.3" fill="none"/>
<path d="M222.3,510.71h2.4" stroke="#3a3aff" stroke-width="0.8"/>
<text transform="translate(226.90,512.66) scale(1,1.22)" class="t">42</text>
<path d="M222.3,497.13h2.4" stroke="#3a3aff" stroke-width="0.8"/>
<text transform="translate(226.90,499.08) scale(1,1.22)" class="t">44</text>
<path d="M222.3,483.55h2.4" stroke="#3a3aff" stroke-width="0.8"/>
<text transform="translate(226.90,485.50) scale(1,1.22)" class="t">46</text>
<path d="M222.3,469.97h2.4" stroke="#3a3aff" stroke-width="0.8"/>
<text transform="translate(226.90,471.92) scale(1,1.22)" class="t">48</text>
<path d="M222.3,456.39h2.4" stroke="#3a3aff" stroke-width="0.8"/>
<text transform="translate(226.90,458.34) scale(1,1.22)" class="t">50</text>
<path d="M222.3,442.80h2.4" stroke="#3a3aff" stroke-width="0.8"/>
<text transform="translate(226.90,444.75) scale(1,1.22)" class="t">52</text>
<path d="M222.3,429.22h2.4" stroke="#3a3aff" stroke-width="0.8"/>
<text transform="translate(226.90,431.17) scale(1,1.22)" class="t">54</text>
<path d="M222.3,415.64h2.4" stroke="#3a3aff" stroke-width="0.8"/>
<text transform="translate(226.90,417.59) scale(1,1.22)" class="t">56</text>
<path d="M222.3,402.06h2.4" stroke="#3a3aff" stroke-width="0.8"/>
<text transform="translate(226.90,404.01) scale(1,1.22)" class="t">58</text>
<path d="M222.3,388.48h2.4" stroke="#3a3aff" stroke-width="0.8"/>
<text transform="translate(226.90,390.43) scale(1,1.22)" class="t">60</text>
<path d="M222.3,374.90h2.4" stroke="#3a3aff" stroke-width="0.8"/>
<text transform="translate(226.90,376.85) scale(1,1.22)" class="t">62</text>
<path d="M222.3,517.50h1.4" stroke="#3a3aff" stroke-width="0.8"/>
<path d="M222.3,503.92h1.4" stroke="#3a3aff" stroke-width="0.8"/>
<path d="M222.3,490.34h1.4" stroke="#3a3aff" stroke-width="0.8"/>
<path d="M222.3,476.76h1.4" stroke="#3a3aff" stroke-width="0.8"/>
<path d="M222.3,463.18h1.4" stroke="#3a3aff" stroke-width="0.8"/>
<path d="M222.3,449.60h1.4" stroke="#3a3aff" stroke-width="0.8"/>
<path d="M222.3,436.01h1.4" stroke="#3a3aff" stroke-width="0.8"/>
<path d="M222.3,422.43h1.4" stroke="#3a3aff" stroke-width="0.8"/>
<path d="M222.3,408.85h1.4" stroke="#3a3aff" stroke-width="0.8"/>
<path d="M222.3,395.27h1.4" stroke="#3a3aff" stroke-width="0.8"/>
<path d="M222.3,381.69h1.4" stroke="#3a3aff" stroke-width="0.8"/>
<polyline points="47.75,391.20 100.12,453.30 152.48,424.70 204.85,400.90" stroke="#bcbcbc" stroke-width="0.8" fill="none"/>
<polyline points="47.75,494.20 100.12,418.50 152.48,386.70 204.85,383.00" stroke="#7676ea" stroke-width="0.8" fill="none"/>
<rect x="46.45" y="389.90" width="2.6" height="2.6" fill="#000"/>
<rect x="98.82" y="452.00" width="2.6" height="2.6" fill="#000"/>
<rect x="151.18" y="423.40" width="2.6" height="2.6" fill="#000"/>
<rect x="203.55" y="399.60" width="2.6" height="2.6" fill="#000"/>
<rect x="46.45" y="492.90" width="2.6" height="2.6" fill="#0000ff"/>
<rect x="98.82" y="417.20" width="2.6" height="2.6" fill="#0000ff"/>
<rect x="151.18" y="385.40" width="2.6" height="2.6" fill="#0000ff"/>
<rect x="203.55" y="381.70" width="2.6" height="2.6" fill="#0000ff"/>
<rect x="156.10" y="464.10" width="52.80" height="20.20" fill="#000"/>
<rect x="154.20" y="462.20" width="52.80" height="20.20" fill="#fff" stroke="#bbb" stroke-width="0.6"/>
<path d="M155.00,467.10H159.70M165.70,467.10H171.20" stroke="#c8c8c8" stroke-width="0.8"/>
<rect x="161.40" y="465.80" width="2.6" height="2.6" fill="#000"/>
<text transform="translate(172.70,469.50) scale(1,1.15)" class="s">σ<tspan dy="2.3" dx="0.2" font-size="4.5">cd</tspan><tspan dy="-2.3" dx="0.3">/UCS(%)</tspan></text>
<path d="M155.00,478.70H159.70M165.70,478.70H171.20" stroke="#8080f0" stroke-width="0.8"/>
<rect x="161.40" y="477.40" width="2.6" height="2.6" fill="#0000ff"/>
<text transform="translate(172.70,481.10) scale(1,1.15)" class="s">φ<tspan dx="0.5">/</tspan><tspan dx="0.9">°</tspan></text>
<text transform="translate(12.0,451.3) rotate(-90) scale(1,1.08)" class="sl" text-anchor="middle">σ<tspan dy="2.3" dx="0.2" font-size="4.5">cd</tspan><tspan dy="-2.3" dx="0.3">/UCS(%)</tspan></text>
<text transform="translate(239,448) rotate(90) scale(1,1.05)" class="s" text-anchor="middle" style="fill:#3a3aee;stroke:#3a3aee;stroke-width:0.12px">φ<tspan dx="0.5">/</tspan><tspan dx="0.9">°</tspan></text>
<text transform="translate(125.6,538.1) scale(1,1.15)" class="s" text-anchor="middle"><tspan font-size="6.2">μ</tspan><tspan dy="2.3" dx="0.7" font-size="4.8">f</tspan></text>
<path d="M268.9,372.5V517.7H463.8M268.9,372.5H463.8" stroke="#787878" stroke-width="1.4" fill="none"/>
<path d="M285.14,517.7v2.4M285.14,372.5v2.6" stroke="#444" stroke-width="0.8"/>
<text transform="translate(285.14,527.10) scale(1,1.22)" class="t" text-anchor="middle">5</text>
<path d="M317.62,517.7v2.4M317.62,372.5v2.6" stroke="#444" stroke-width="0.8"/>
<text transform="translate(317.62,527.10) scale(1,1.22)" class="t" text-anchor="middle">10</text>
<path d="M350.11,517.7v2.4M350.11,372.5v2.6" stroke="#444" stroke-width="0.8"/>
<text transform="translate(350.11,527.10) scale(1,1.22)" class="t" text-anchor="middle">15</text>
<path d="M382.59,517.7v2.4M382.59,372.5v2.6" stroke="#444" stroke-width="0.8"/>
<text transform="translate(382.59,527.10) scale(1,1.22)" class="t" text-anchor="middle">20</text>
<path d="M415.07,517.7v2.4M415.07,372.5v2.6" stroke="#444" stroke-width="0.8"/>
<text transform="translate(415.07,527.10) scale(1,1.22)" class="t" text-anchor="middle">25</text>
<path d="M447.56,517.7v2.4M447.56,372.5v2.6" stroke="#444" stroke-width="0.8"/>
<text transform="translate(447.56,527.10) scale(1,1.22)" class="t" text-anchor="middle">30</text>
<path d="M301.38,517.7v1.3M301.38,372.5v1.5" stroke="#444" stroke-width="0.8"/>
<path d="M333.87,517.7v1.3M333.87,372.5v1.5" stroke="#444" stroke-width="0.8"/>
<path d="M366.35,517.7v1.3M366.35,372.5v1.5" stroke="#444" stroke-width="0.8"/>
<path d="M398.83,517.7v1.3M398.83,372.5v1.5" stroke="#444" stroke-width="0.8"/>
<path d="M431.32,517.7v1.3M431.32,372.5v1.5" stroke="#444" stroke-width="0.8"/>
<path d="M268.9,517.70h-2.4" stroke="#444" stroke-width="0.8"/>
<text transform="translate(264.30,519.65) scale(1,1.22)" class="t" text-anchor="end">8</text>
<path d="M268.9,509.85h-2.4" stroke="#444" stroke-width="0.8"/>
<text transform="translate(264.30,511.80) scale(1,1.22)" class="t" text-anchor="end">10</text>
<path d="M268.9,502.00h-2.4" stroke="#444" stroke-width="0.8"/>
<text transform="translate(264.30,503.95) scale(1,1.22)" class="t" text-anchor="end">12</text>
<path d="M268.9,494.15h-2.4" stroke="#444" stroke-width="0.8"/>
<text transform="translate(264.30,496.10) scale(1,1.22)" class="t" text-anchor="end">14</text>
<path d="M268.9,486.31h-2.4" stroke="#444" stroke-width="0.8"/>
<text transform="translate(264.30,488.26) scale(1,1.22)" class="t" text-anchor="end">16</text>
<path d="M268.9,478.46h-2.4" stroke="#444" stroke-width="0.8"/>
<text transform="translate(264.30,480.41) scale(1,1.22)" class="t" text-anchor="end">18</text>
<path d="M268.9,470.61h-2.4" stroke="#444" stroke-width="0.8"/>
<text transform="translate(264.30,472.56) scale(1,1.22)" class="t" text-anchor="end">20</text>
<path d="M268.9,462.76h-2.4" stroke="#444" stroke-width="0.8"/>
<text transform="translate(264.30,464.71) scale(1,1.22)" class="t" text-anchor="end">22</text>
<path d="M268.9,454.91h-2.4" stroke="#444" stroke-width="0.8"/>
<text transform="translate(264.30,456.86) scale(1,1.22)" class="t" text-anchor="end">24</text>
<path d="M268.9,447.06h-2.4" stroke="#444" stroke-width="0.8"/>
<text transform="translate(264.30,449.01) scale(1,1.22)" class="t" text-anchor="end">26</text>
<path d="M268.9,439.21h-2.4" stroke="#444" stroke-width="0.8"/>
<text transform="translate(264.30,441.16) scale(1,1.22)" class="t" text-anchor="end">28</text>
<path d="M268.9,431.36h-2.4" stroke="#444" stroke-width="0.8"/>
<text transform="translate(264.30,433.31) scale(1,1.22)" class="t" text-anchor="end">30</text>
<path d="M268.9,423.52h-2.4" stroke="#444" stroke-width="0.8"/>
<text transform="translate(264.30,425.47) scale(1,1.22)" class="t" text-anchor="end">32</text>
<path d="M268.9,415.67h-2.4" stroke="#444" stroke-width="0.8"/>
<text transform="translate(264.30,417.62) scale(1,1.22)" class="t" text-anchor="end">34</text>
<path d="M268.9,407.82h-2.4" stroke="#444" stroke-width="0.8"/>
<text transform="translate(264.30,409.77) scale(1,1.22)" class="t" text-anchor="end">36</text>
<path d="M268.9,399.97h-2.4" stroke="#444" stroke-width="0.8"/>
<text transform="translate(264.30,401.92) scale(1,1.22)" class="t" text-anchor="end">38</text>
<path d="M268.9,392.12h-2.4" stroke="#444" stroke-width="0.8"/>
<text transform="translate(264.30,394.07) scale(1,1.22)" class="t" text-anchor="end">40</text>
<path d="M268.9,384.27h-2.4" stroke="#444" stroke-width="0.8"/>
<text transform="translate(264.30,386.22) scale(1,1.22)" class="t" text-anchor="end">42</text>
<path d="M268.9,376.42h-2.4" stroke="#444" stroke-width="0.8"/>
<text transform="translate(264.30,378.37) scale(1,1.22)" class="t" text-anchor="end">44</text>
<path d="M268.9,513.78h-1.4" stroke="#444" stroke-width="0.8"/>
<path d="M268.9,505.93h-1.4" stroke="#444" stroke-width="0.8"/>
<path d="M268.9,498.08h-1.4" stroke="#444" stroke-width="0.8"/>
<path d="M268.9,490.23h-1.4" stroke="#444" stroke-width="0.8"/>
<path d="M268.9,482.38h-1.4" stroke="#444" stroke-width="0.8"/>
<path d="M268.9,474.53h-1.4" stroke="#444" stroke-width="0.8"/>
<path d="M268.9,466.68h-1.4" stroke="#444" stroke-width="0.8"/>
<path d="M268.9,458.84h-1.4" stroke="#444" stroke-width="0.8"/>
<path d="M268.9,450.99h-1.4" stroke="#444" stroke-width="0.8"/>
<path d="M268.9,443.14h-1.4" stroke="#444" stroke-width="0.8"/>
<path d="M268.9,435.29h-1.4" stroke="#444" stroke-width="0.8"/>
<path d="M268.9,427.44h-1.4" stroke="#444" stroke-width="0.8"/>
<path d="M268.9,419.59h-1.4" stroke="#444" stroke-width="0.8"/>
<path d="M268.9,411.74h-1.4" stroke="#444" stroke-width="0.8"/>
<path d="M268.9,403.89h-1.4" stroke="#444" stroke-width="0.8"/>
<path d="M268.9,396.05h-1.4" stroke="#444" stroke-width="0.8"/>
<path d="M268.9,388.20h-1.4" stroke="#444" stroke-width="0.8"/>
<path d="M268.9,380.35h-1.4" stroke="#444" stroke-width="0.8"/>
<path d="M268.9,372.50h-1.4" stroke="#444" stroke-width="0.8"/>
<path d="M463.8,372.5V517.7" stroke="#7878ff" stroke-width="1.3" fill="none"/>
<path d="M463.8,505.60h2.4" stroke="#3a3aff" stroke-width="0.8"/>
<text transform="translate(468.40,507.55) scale(1,1.22)" class="t">0.05</text>
<path d="M463.8,475.35h2.4" stroke="#3a3aff" stroke-width="0.8"/>
<text transform="translate(468.40,477.30) scale(1,1.22)" class="t">0.10</text>
<path d="M463.8,445.10h2.4" stroke="#3a3aff" stroke-width="0.8"/>
<text transform="translate(468.40,447.05) scale(1,1.22)" class="t">0.15</text>
<path d="M463.8,414.85h2.4" stroke="#3a3aff" stroke-width="0.8"/>
<text transform="translate(468.40,416.80) scale(1,1.22)" class="t">0.20</text>
<path d="M463.8,384.60h2.4" stroke="#3a3aff" stroke-width="0.8"/>
<text transform="translate(468.40,386.55) scale(1,1.22)" class="t">0.25</text>
<path d="M463.8,490.48h1.4" stroke="#3a3aff" stroke-width="0.8"/>
<path d="M463.8,460.23h1.4" stroke="#3a3aff" stroke-width="0.8"/>
<path d="M463.8,429.98h1.4" stroke="#3a3aff" stroke-width="0.8"/>
<path d="M463.8,399.73h1.4" stroke="#3a3aff" stroke-width="0.8"/>
<polyline points="291.64,465.30 343.61,449.40 395.59,435.30 447.56,420.30" stroke="#bcbcbc" stroke-width="0.8" fill="none"/>
<polyline points="291.64,452.50 343.61,433.10 395.59,425.90 447.56,424.40" stroke="#7676ea" stroke-width="0.8" fill="none"/>
<rect x="290.34" y="464.00" width="2.6" height="2.6" fill="#000"/>
<rect x="342.31" y="448.10" width="2.6" height="2.6" fill="#000"/>
<rect x="394.29" y="434.00" width="2.6" height="2.6" fill="#000"/>
<rect x="446.26" y="419.00" width="2.6" height="2.6" fill="#000"/>
<rect x="290.34" y="451.20" width="2.6" height="2.6" fill="#0000ff"/>
<rect x="342.31" y="431.80" width="2.6" height="2.6" fill="#0000ff"/>
<rect x="394.29" y="424.60" width="2.6" height="2.6" fill="#0000ff"/>
<rect x="446.26" y="423.10" width="2.6" height="2.6" fill="#0000ff"/>
<rect x="284.10" y="386.20" width="39.00" height="18.20" fill="#000"/>
<rect x="282.20" y="384.30" width="39.00" height="18.20" fill="#fff" stroke="#bbb" stroke-width="0.6"/>
<path d="M283.00,389.50H288.30M294.30,389.50H299.80" stroke="#c8c8c8" stroke-width="0.8"/>
<rect x="290.00" y="388.20" width="2.6" height="2.6" fill="#000"/>
<text transform="translate(301.80,391.90) scale(1,1.15)" class="s">E/GPa</text>
<path d="M283.00,398.30H288.30M294.30,398.30H299.80" stroke="#8080f0" stroke-width="0.8"/>
<rect x="290.00" y="397.00" width="2.6" height="2.6" fill="#0000ff"/>
<text transform="translate(301.80,400.70) scale(1,1.15)" class="s">ν</text>
<text transform="translate(251.5,449.4) rotate(-90) scale(1,1.08)" class="sl" text-anchor="middle">E/GPa</text>
<text transform="translate(484,450.1) rotate(90) scale(1,1.05)" class="s" text-anchor="middle" style="fill:#3a3aee;stroke:#3a3aee;stroke-width:0.12px">ν</text>
<text transform="translate(367.2,539.0) scale(1,1.15)" class="s" text-anchor="middle">σ<tspan dy="2.0" dx="0.2" font-size="4.8">f</tspan><tspan dy="-2.0" dx="0.8">/MPa</tspan></text>
</svg>
</body></html>
